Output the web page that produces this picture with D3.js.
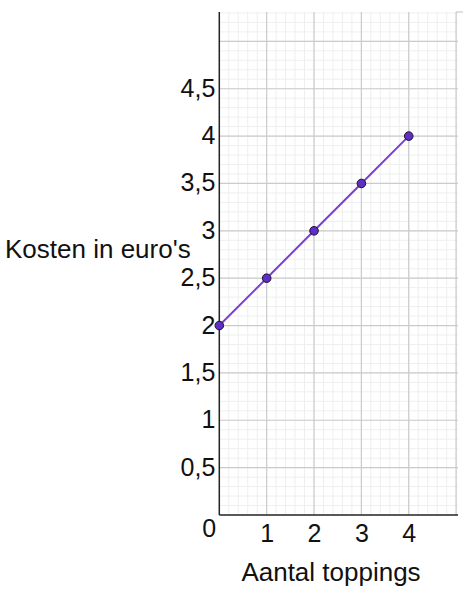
<!DOCTYPE html>
<html>
<head>
<meta charset="utf-8">
<script src="https://cdn.jsdelivr.net/npm/d3@7"></script>
<style>
  body { margin: 0; background: #fff; }
  svg { display: block; }
  text { font-family: "Liberation Sans", Arial, sans-serif; fill: #111; }
</style>
</head>
<body>
<div id="chart"></div>
<script>
// data
let toppings = [0, 1, 2, 3, 4];
let kosten = [2, 2.5, 3, 3.5, 4];
let xTickValues = [1, 2, 3, 4];
let yTickValues = [0.5, 1, 1.5, 2, 2.5, 3, 3.5, 4, 4.5];
let yTickLabels = ["0,5", "1", "1,5", "2", "2,5", "3", "3,5", "4", "4,5"];
let xTitle = "Aantal toppings";
let yTitle = "Kosten in euro's";

const width = 464;
const height = 595;

const svg = d3.select("#chart").append("svg")
  .attr("width", width)
  .attr("height", height);

// scales, 0.5 on y is the same length as 1 on x
const x = d3.scaleLinear().domain([0, 5.04]).range([219.3, 458]);
const y = d3.scaleLinear().domain([0, 5.31]).range([515, 12]);

// minor grid
let minorX = d3.range(0, 5.04, 0.2);
let minorY = d3.range(0, 5.31, 0.1);
let grid = svg.append("g");
grid.selectAll(".mx").data(minorX).join("line")
  .attr("x1", d => x(d)).attr("x2", d => x(d))
  .attr("y1", y(0)).attr("y2", y(5.31))
  .attr("stroke", "#efefef").attr("stroke-width", 1);
grid.selectAll(".my").data(minorY).join("line")
  .attr("x1", x(0)).attr("x2", x(5.04))
  .attr("y1", d => y(d)).attr("y2", d => y(d))
  .attr("stroke", "#efefef").attr("stroke-width", 1);

// major grid
grid.selectAll(".Mx").data(d3.range(1, 6)).join("line")
  .attr("x1", d => x(d)).attr("x2", d => x(d))
  .attr("y1", y(0)).attr("y2", y(5.31))
  .attr("stroke", "#cbcbcb").attr("stroke-width", 1.2);
grid.selectAll(".My").data(d3.range(0.5, 5.3, 0.5)).join("line")
  .attr("x1", x(0)).attr("x2", x(5.04))
  .attr("y1", d => y(d)).attr("y2", d => y(d))
  .attr("stroke", "#cbcbcb").attr("stroke-width", 1.2);

// small mark at top right corner
svg.append("line")
  .attr("x1", x(5)).attr("x2", x(5.04) + 5)
  .attr("y1", y(5.31)).attr("y2", y(5.31))
  .attr("stroke", "#cbcbcb").attr("stroke-width", 1.2);

// axes lines
svg.append("line")
  .attr("x1", x(0)).attr("x2", x(0))
  .attr("y1", y(0)).attr("y2", y(5.31))
  .attr("stroke", "#252525").attr("stroke-width", 1.5);
svg.append("line")
  .attr("x1", x(0)).attr("x2", x(5.04))
  .attr("y1", y(0)).attr("y2", y(0))
  .attr("stroke", "#252525").attr("stroke-width", 1.5);

// y tick labels
const yAxis = d3.axisLeft(y)
  .tickValues(yTickValues)
  .tickSize(0)
  .tickPadding(4)
  .tickFormat((d, i) => yTickLabels[i]);
const gy = svg.append("g")
  .attr("transform", `translate(${x(0)},0)`)
  .call(yAxis);
gy.select(".domain").remove();
gy.selectAll("text")
  .attr("dy", "0.3em")
  .style("font-size", "25px")
  .style("font-family", "'Liberation Sans', Arial, sans-serif")
  .attr("fill", "#111");

// x tick labels
const xAxis = d3.axisBottom(x)
  .tickValues(xTickValues)
  .tickSize(0)
  .tickPadding(0)
  .tickFormat(d => d);
const gx = svg.append("g")
  .attr("transform", `translate(0,${y(0)})`)
  .call(xAxis);
gx.select(".domain").remove();
gx.selectAll("text")
  .attr("y", 27)
  .attr("dy", 0)
  .style("font-size", "25px")
  .style("font-family", "'Liberation Sans', Arial, sans-serif")
  .attr("fill", "#111");

// origin label
svg.append("text")
  .attr("x", x(0) - 10)
  .attr("y", y(0) + 22)
  .attr("text-anchor", "middle")
  .style("font-size", "25px")
  .text("0");

// titles
svg.append("text")
  .attr("x", 331)
  .attr("y", 581)
  .attr("text-anchor", "middle")
  .style("font-size", "26px")
  .text(xTitle);
svg.append("text")
  .attr("x", 5)
  .attr("y", 258)
  .style("font-size", "26px")
  .text(yTitle);

// line and points
let pts = toppings.map((t, i) => ({t: t, k: kosten[i]}));
const line = d3.line().x(d => x(d.t)).y(d => y(d.k));
svg.append("path")
  .datum(pts)
  .attr("d", line)
  .attr("fill", "none")
  .attr("stroke", "#7b3fd8")
  .attr("stroke-width", 2);
svg.selectAll(".pt").data(pts).join("circle")
  .attr("cx", d => x(d.t))
  .attr("cy", d => y(d.k))
  .attr("r", 4.3)
  .attr("fill", "#5f2ec4")
  .attr("stroke", "#1c1030")
  .attr("stroke-width", 1);
</script>
</body>
</html>
